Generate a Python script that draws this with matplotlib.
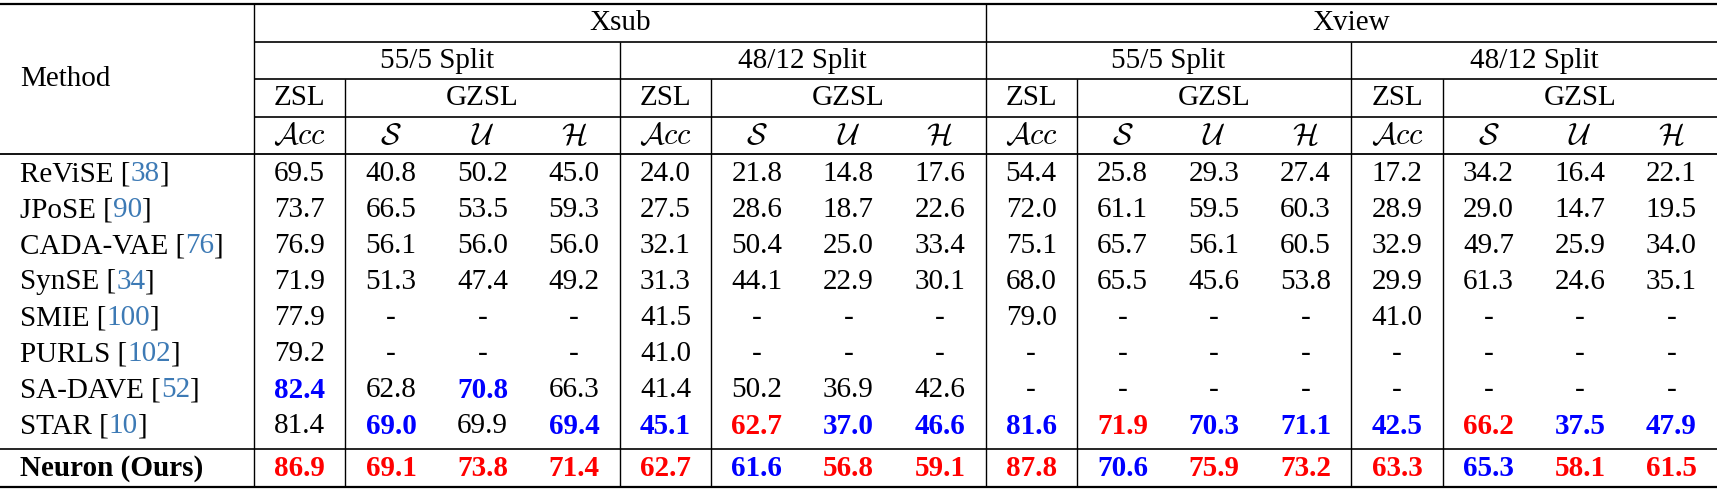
import matplotlib
matplotlib.use("Agg")
import matplotlib.pyplot as plt

plt.rcParams['mathtext.fontset'] = 'cm'
FONT = 'Liberation Serif'

methods = ["ReViSE", "JPoSE", "CADA-VAE", "SynSE", "SMIE", "PURLS", "SA-DAVE", "STAR", "Neuron (Ours)"]
cites = ["38", "90", "76", "34", "100", "102", "52", "10", ""]
values = [
    ["69.5","40.8","50.2","45.0","24.0","21.8","14.8","17.6","54.4","25.8","29.3","27.4","17.2","34.2","16.4","22.1"],
    ["73.7","66.5","53.5","59.3","27.5","28.6","18.7","22.6","72.0","61.1","59.5","60.3","28.9","29.0","14.7","19.5"],
    ["76.9","56.1","56.0","56.0","32.1","50.4","25.0","33.4","75.1","65.7","56.1","60.5","32.9","49.7","25.9","34.0"],
    ["71.9","51.3","47.4","49.2","31.3","44.1","22.9","30.1","68.0","65.5","45.6","53.8","29.9","61.3","24.6","35.1"],
    ["77.9","-","-","-","41.5","-","-","-","79.0","-","-","-","41.0","-","-","-"],
    ["79.2","-","-","-","41.0","-","-","-","-","-","-","-","-","-","-","-"],
    ["82.4","62.8","70.8","66.3","41.4","50.2","36.9","42.6","-","-","-","-","-","-","-","-"],
    ["81.4","69.0","69.9","69.4","45.1","62.7","37.0","46.6","81.6","71.9","70.3","71.1","42.5","66.2","37.5","47.9"],
    ["86.9","69.1","73.8","71.4","62.7","61.6","56.8","59.1","87.8","70.6","75.9","73.2","63.3","65.3","58.1","61.5"],
]
marks = [
    "kkkkkkkkkkkkkkkk",
    "kkkkkkkkkkkkkkkk",
    "kkkkkkkkkkkkkkkk",
    "kkkkkkkkkkkkkkkk",
    "kkkkkkkkkkkkkkkk",
    "kkkkkkkkkkkkkkkk",
    "bkbkkkkkkkkkkkkk",
    "kbkbbrbbbrbbbrbb",
    "rrrrrbrrrbrrrbrr",
]
groups = ["Xsub", "Xview"]
splits = ["55/5 Split", "48/12 Split"]
metrics = [r"$\mathcal{A}cc$", r"$\mathcal{S}$", r"$\mathcal{U}$", r"$\mathcal{H}$"]

W, H = 1717, 492
fig = plt.figure(figsize=(W/100, H/100), dpi=100)
ax = fig.add_axes([0, 0, 1, 1])
ax.set_xlim(0, W); ax.set_ylim(H, 0); ax.axis('off')

x0 = 254
cw = (W - x0) / 16
fs = 21
colmap = {'k': 'black', 'b': '#0000ff', 'r': '#ff0000'}
cite_col = '#3d7ab5'

def hl(y, xa, xb, lw=1.2):
    ax.plot([xa, xb], [y, y], color='black', lw=lw, solid_capstyle='butt')
def vl(x, ya, yb, lw=1.0):
    ax.plot([x, x], [ya, yb], color='black', lw=lw, solid_capstyle='butt')

yt, y1, y2, y3, yh, ysep, yb = 4, 42, 79, 117, 154, 449, 487
hl(yt, 0, W, 1.6); hl(y1, x0, W); hl(y2, x0, W); hl(y3, x0, W); hl(yh, 0, W, 1.3)
hl(ysep, 0, W, 1.2); hl(yb, 0, W, 1.6)
vl(x0, yt, yb)
vl(x0 + 8*cw, yt, yb)
for s in (4, 12):
    vl(x0 + s*cw, y1, yb)
for s in (1, 5, 9, 13):
    vl(x0 + s*cw, y2, yb)

ax.text(20, (yt+yh)/2, "Method", fontsize=fs, family=FONT, va='center', ha='left')
for g in range(2):
    ax.text(x0 + (g*8+4)*cw, (yt+y1)/2, groups[g], fontsize=fs, family=FONT, ha='center', va='center')
    for s in range(2):
        b = g*8 + s*4
        ax.text(x0 + (b+2)*cw, (y1+y2)/2, splits[s], fontsize=fs, family=FONT, ha='center', va='center')
        ax.text(x0 + (b+0.5)*cw, (y2+y3)/2, "ZSL", fontsize=fs, family=FONT, ha='center', va='center')
        ax.text(x0 + (b+2.5)*cw, (y2+y3)/2, "GZSL", fontsize=fs, family=FONT, ha='center', va='center')
        for m in range(4):
            ax.text(x0 + (b+m+0.5)*cw, (y3+yh)/2, metrics[m], fontsize=fs+1, ha='center', va='center')

row_y = [174 + 36*i for i in range(8)] + [468]
for r, name in enumerate(methods):
    y = row_y[r]
    bold = (r == len(methods)-1)
    t = ax.text(20, y, name + (" [" if cites[r] else ""), fontsize=fs, family=FONT,
                fontweight='bold' if bold else 'normal', va='center', ha='left')
    if cites[r]:
        fig.canvas.draw()
        bb = t.get_window_extent()
        xe = ax.transData.inverted().transform((bb.x1, 0))[0]
        t2 = ax.text(xe, y, cites[r], fontsize=fs, family=FONT, color=cite_col, va='center', ha='left')
        fig.canvas.draw()
        bb2 = t2.get_window_extent()
        xe2 = ax.transData.inverted().transform((bb2.x1, 0))[0]
        ax.text(xe2, y, "]", fontsize=fs, family=FONT, va='center', ha='left')
    for c in range(16):
        mk = marks[r][c]
        ax.text(x0 + (c+0.5)*cw, y, values[r][c], fontsize=fs, family=FONT, ha='center', va='center',
                color=colmap[mk], fontweight='normal' if mk == 'k' and not bold else 'bold')

fig.savefig("out.png", dpi=100)
